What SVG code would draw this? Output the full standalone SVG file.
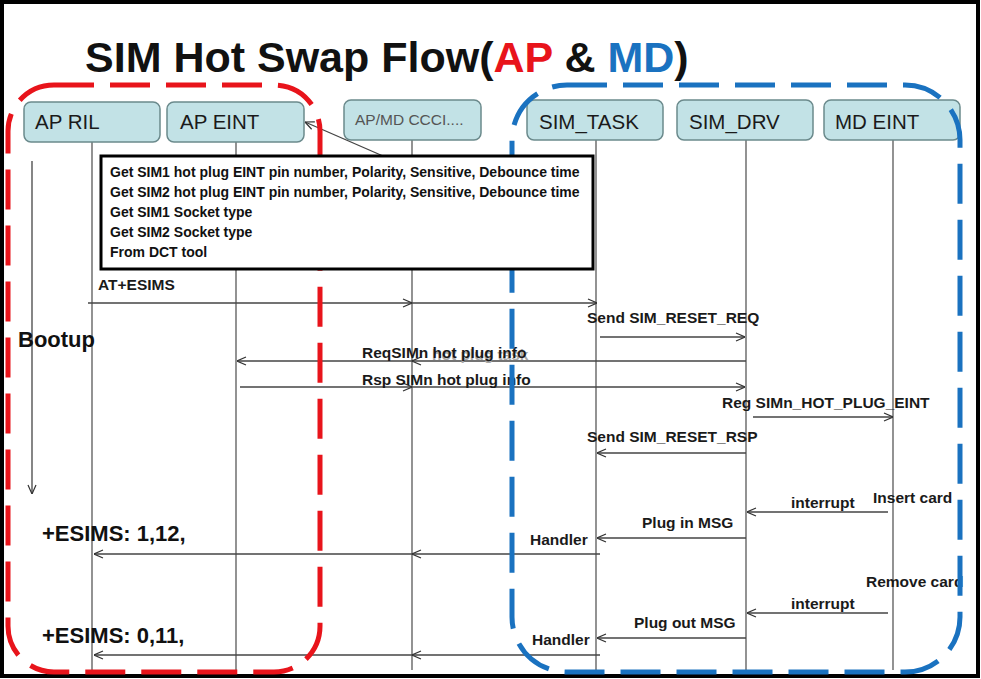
<svg xmlns="http://www.w3.org/2000/svg" width="981" height="679" viewBox="0 0 981 679">
<style>
.box{fill:#c2e2e6;stroke:#6b8a8c;stroke-width:1.5}
.bt{font-family:"Liberation Sans",Arial,sans-serif;font-size:20.5px;fill:#1a1a1a}
.bts{font-family:"Liberation Sans",Arial,sans-serif;font-size:15.5px;fill:#555}
.life{stroke:#3a3a3a;stroke-width:1.1;fill:none}
.msg{stroke:#444;stroke-width:1.3;fill:none}
.arr{marker-end:url(#ah)}
.lbl{font-family:"Liberation Sans",Arial,sans-serif;font-size:15.5px;font-weight:bold;fill:#1a1a1a}
.ghost{font-family:"Liberation Sans",Arial,sans-serif;font-size:15.5px;font-weight:bold;fill:#a8a8a8}
.big{font-family:"Liberation Sans",Arial,sans-serif;font-size:22px;font-weight:bold;fill:#111}
.note{font-family:"Liberation Sans",Arial,sans-serif;font-size:14px;font-weight:bold;fill:#111}
.red{fill:none;stroke:#e8141b;stroke-width:5;stroke-dasharray:40 16}
.blue{fill:none;stroke:#1a72c0;stroke-width:5;stroke-dasharray:40 16}
</style>
<defs>
<marker id="ah" viewBox="0 0 10 10" refX="10" refY="5" markerWidth="10" markerHeight="10" markerUnits="userSpaceOnUse" orient="auto">
<path d="M1,1 L10,5 L1,9" fill="none" stroke="#333" stroke-width="1.2"/>
</marker>
</defs>
<rect x="0" y="0" width="981" height="679" fill="#fff"/>
<rect x="2" y="2" width="976" height="674" fill="none" stroke="#000" stroke-width="4"/>

<text x="85" y="72" font-family="'Liberation Sans',Arial,sans-serif" font-size="43" font-weight="bold" fill="#111">SIM Hot Swap Flow(<tspan fill="#e8141b">AP</tspan> &amp; <tspan fill="#1a72c0">MD</tspan>)</text>

<g id="lifelines">
<line class="life" x1="92" y1="142" x2="92" y2="670"/>
<line class="life" x1="236" y1="142" x2="236" y2="670"/>
<line class="life" x1="412" y1="140" x2="412" y2="670"/>
<line class="life" x1="596" y1="140" x2="596" y2="670"/>
<line class="life" x1="746" y1="140" x2="746" y2="670"/>
<line class="life" x1="893" y1="140" x2="893" y2="670"/>
</g>

<g id="node-ap-ril"><rect class="box" x="24" y="102" width="136" height="40" rx="7"/><text class="bt" x="35" y="129">AP RIL</text></g>
<g id="node-ap-eint"><rect class="box" x="167" y="102" width="137" height="40" rx="7"/><text class="bt" x="180" y="129">AP EINT</text></g>
<g id="node-ccci"><rect class="box" x="344" y="100" width="137" height="40" rx="7"/><text class="bts" x="355" y="125">AP/MD CCCI....</text></g>
<g id="node-sim-task"><rect class="box" x="527" y="100" width="136" height="40" rx="7"/><text class="bt" x="539" y="129">SIM_TASK</text></g>
<g id="node-sim-drv"><rect class="box" x="677" y="100" width="136" height="40" rx="7"/><text class="bt" x="689" y="129">SIM_DRV</text></g>
<g id="node-md-eint"><rect class="box" x="824" y="100" width="136" height="40" rx="7"/><text class="bt" x="835" y="129">MD EINT</text></g>

<g id="connectors">
<line class="msg arr" x1="32" y1="161" x2="32" y2="494"/>
<line class="msg arr" x1="88" y1="303" x2="412" y2="303"/>
<line class="msg arr" x1="412" y1="303" x2="597" y2="303"/>
<line class="msg arr" x1="600" y1="337" x2="745" y2="337"/>
<line class="msg arr" x1="746" y1="361" x2="412" y2="361"/>
<line class="msg arr" x1="412" y1="361" x2="237" y2="361"/>
<line class="msg arr" x1="240" y1="387" x2="412" y2="387"/>
<line class="msg arr" x1="412" y1="387" x2="745" y2="387"/>
<line class="msg arr" x1="753" y1="417" x2="893" y2="417"/>
<line class="msg arr" x1="746" y1="453" x2="597" y2="453"/>
<line class="msg arr" x1="888" y1="512" x2="747" y2="512"/>
<line class="msg arr" x1="746" y1="538" x2="597" y2="538"/>
<line class="msg arr" x1="600" y1="554" x2="412" y2="554"/>
<line class="msg arr" x1="412" y1="554" x2="94" y2="554"/>
<line class="msg arr" x1="888" y1="613" x2="747" y2="613"/>
<line class="msg arr" x1="746" y1="638" x2="597" y2="638"/>
<line class="msg arr" x1="600" y1="655" x2="412" y2="655"/>
<line class="msg arr" x1="412" y1="655" x2="94" y2="655"/>
<line class="msg arr" x1="383" y1="156" x2="305" y2="122"/>
</g>

<g id="labels">
<text class="big" x="18" y="347">Bootup</text>
<text class="lbl" x="98" y="290">AT+ESIMS</text>
<text class="lbl" x="587" y="323">Send SIM_RESET_REQ</text>
<text class="ghost" x="432" y="360">hot plug task</text>
<text class="lbl" x="362" y="358">ReqSIMn hot plug info</text>
<text class="lbl" x="362" y="385">Rsp SIMn hot plug info</text>
<text class="lbl" x="722" y="408">Reg SIMn_HOT_PLUG_EINT</text>
<text class="lbl" x="587" y="442">Send SIM_RESET_RSP</text>
<text class="lbl" x="873" y="503">Insert card</text>
<text class="lbl" x="791" y="508">interrupt</text>
<text class="lbl" x="642" y="528">Plug in MSG</text>
<text class="lbl" x="530" y="545">Handler</text>
<text class="big" x="42" y="541">+ESIMS: 1,12,</text>
<text class="lbl" x="866" y="587">Remove card</text>
<text class="lbl" x="791" y="609">interrupt</text>
<text class="lbl" x="634" y="628">Plug out MSG</text>
<text class="lbl" x="532" y="645">Handler</text>
<text class="big" x="42" y="643">+ESIMS: 0,11,</text>
</g>

<g id="group-ap"><rect class="red" x="8" y="85" width="312" height="587" rx="46"/></g>
<g id="group-md"><rect class="blue" x="512" y="85" width="448" height="587" rx="55"/></g>

<g id="node-note">
<rect x="101" y="156" width="492" height="113" fill="#fff" stroke="#000" stroke-width="3"/>
<text class="note" x="110" y="177">Get SIM1 hot plug EINT pin number, Polarity, Sensitive, Debounce time</text>
<text class="note" x="110" y="197">Get SIM2 hot plug EINT pin number, Polarity, Sensitive, Debounce time</text>
<text class="note" x="110" y="217">Get SIM1 Socket type</text>
<text class="note" x="110" y="237">Get SIM2 Socket type</text>
<text class="note" x="110" y="257">From DCT tool</text>
</g>
</svg>
